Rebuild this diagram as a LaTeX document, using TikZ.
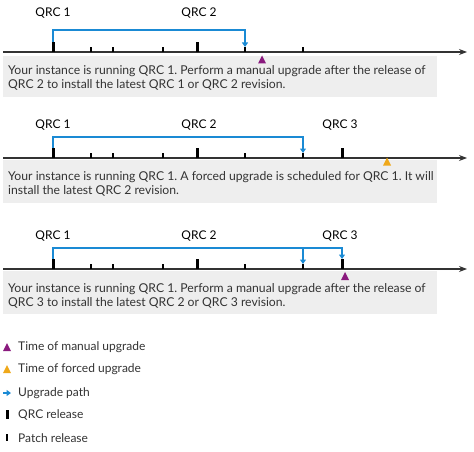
\documentclass[tikz,border=0pt]{standalone}
\usepackage{fontspec}
\setmainfont{Lato}
\frenchspacing
\usetikzlibrary{arrows.meta}

\definecolor{pathblue}{HTML}{1A8AD4}
\definecolor{manualpurple}{HTML}{8A1A7E}
\definecolor{forcedorange}{HTML}{EFA81A}
\definecolor{boxgray}{HTML}{EEEEEE}
\definecolor{textgray}{HTML}{333333}

\begin{document}
\begin{tikzpicture}[
  x=1pt, y=-1pt,
  axis/.style={
    -{Stealth[length=8pt,width=6pt]},
    line width=1.2pt,
    draw=textgray
  },
  qrctick/.style={
    line width=3pt
  },
  patchtick/.style={
    line width=1.8pt
  },
  upgrade/.style={
    -{Triangle[length=4.5pt,width=6pt]},
    line width=1.5pt,
    draw=pathblue
  },
  qrclabel/.style={
    inner sep=0pt,
    font=\fontsize{12}{14}\selectfont
  },
  note/.style={
    anchor=north west,
    inner sep=0pt,
    align=left,
    text=textgray,
    font=\fontsize{12.2}{14}\selectfont
  },
  legend/.style={
    anchor=west,
    inner sep=0pt,
    text=textgray,
    font=\fontsize{12}{14}\selectfont
  }
]

\path[use as bounding box] (0,0) rectangle (474,452);

% first timeline
\coordinate (a0) at (3,52);
\coordinate (aend) at (467,52);
\coordinate (a1) at (53,52);
\coordinate (a2) at (197,52);
\coordinate (a1top) at (53,42);
\coordinate (a6top) at (245,47);

\fill[boxgray] (3,56) rectangle (437,97);
\node[note] (anote) at (8,65)
  {Your instance is running QRC 1. Perform a manual upgrade after the release of\\
   QRC 2 to install the latest QRC 1 or QRC 2 revision.};
\draw[axis] (a0) -- (aend);
\foreach \x in {91,113,163,245,303}
  \draw[patchtick] (\x,52) -- ++(0,-5);
\draw[qrctick] (a1) -- (a1top);
\draw[qrctick] (a2) -- ++(0,-10);
\node[qrclabel] (aqrc1) at (53,13) {QRC 1};
\node[qrclabel] (aqrc2) at (199,13) {QRC 2};
\draw[upgrade] (a1top) -- ++(0,-12) -| (a6top);
\fill[manualpurple] (262,55.5) -- ++(4,8) -- ++(-8,0) -- cycle;

% second timeline
\coordinate (b0) at (3,158);
\coordinate (bend) at (467,158);
\coordinate (b1) at (53,158);
\coordinate (b2) at (197,158);
\coordinate (b3) at (342,158);
\coordinate (b1top) at (53,148);
\coordinate (b7top) at (303,153);

\fill[boxgray] (3,160) rectangle (437,203);
\node[note] (bnote) at (8,171)
  {Your instance is running QRC 1. A forced upgrade is scheduled for QRC 1. It will\\
   install the latest QRC 2 revision.};
\draw[axis] (b0) -- (bend);
\foreach \x in {91,113,163,245,303}
  \draw[patchtick] (\x,158) -- ++(0,-5);
\draw[qrctick] (b1) -- (b1top);
\draw[qrctick] (b2) -- ++(0,-10);
\draw[qrctick] (b3) -- ++(0,-10);
\node[qrclabel] (bqrc1) at (53,125) {QRC 1};
\node[qrclabel] (bqrc2) at (199,125) {QRC 2};
\node[qrclabel] (bqrc3) at (340,125) {QRC 3};
\draw[upgrade] (b1top) -- ++(0,-11) -| (b7top);
\fill[forcedorange] (387,157.5) -- ++(4,8) -- ++(-8,0) -- cycle;

% third timeline
\coordinate (c0) at (3,269);
\coordinate (cend) at (467,269);
\coordinate (c1) at (53,269);
\coordinate (c2) at (197,269);
\coordinate (c3) at (342,269);
\coordinate (c1top) at (53,259);
\coordinate (cbend) at (53,248);
\coordinate (c7top) at (303,264);
\coordinate (c3top) at (342,259);

\fill[boxgray] (3,271) rectangle (437,314);
\node[note] (cnote) at (8,283)
  {Your instance is running QRC 1. Perform a manual upgrade after the release of\\
   QRC 3 to install the latest QRC 2 or QRC 3 revision.};
\draw[axis] (c0) -- (cend);
\foreach \x in {91,113,163,245,303}
  \draw[patchtick] (\x,269) -- ++(0,-5);
\draw[qrctick] (c1) -- (c1top);
\draw[qrctick] (c2) -- ++(0,-10);
\draw[qrctick] (c3) -- (c3top);
\node[qrclabel] (cqrc1) at (53,236) {QRC 1};
\node[qrclabel] (cqrc2) at (199,236) {QRC 2};
\node[qrclabel] (cqrc3) at (340,236) {QRC 3};
\draw[upgrade] (c1top) -- (cbend) -| (c3top);
\draw[upgrade] (cbend -| c7top) -- (c7top);
\fill[manualpurple] (345,272) -- ++(4,8) -- ++(-8,0) -- cycle;

% legend
\fill[manualpurple] (7,343) -- ++(4,8) -- ++(-8,0) -- cycle;
\node[legend] (lmanual) at (18,347) {Time of manual upgrade};
\fill[forcedorange] (7,365) -- ++(4,8) -- ++(-8,0) -- cycle;
\node[legend] (lforced) at (18,369) {Time of forced upgrade};
\coordinate (lpath) at (3,393);
\draw[upgrade, line width=1.3pt] (lpath) -- ++(8,0);
\node[legend] (lupgrade) at (18,393) {Upgrade path};
\draw[qrctick] (7,410) -- (7,419);
\node[legend] (lqrc) at (18,415) {QRC release};
\draw[patchtick] (7,434) -- (7,441);
\node[legend] (lpatch) at (18,438) {Patch release};

\end{tikzpicture}
\end{document}
